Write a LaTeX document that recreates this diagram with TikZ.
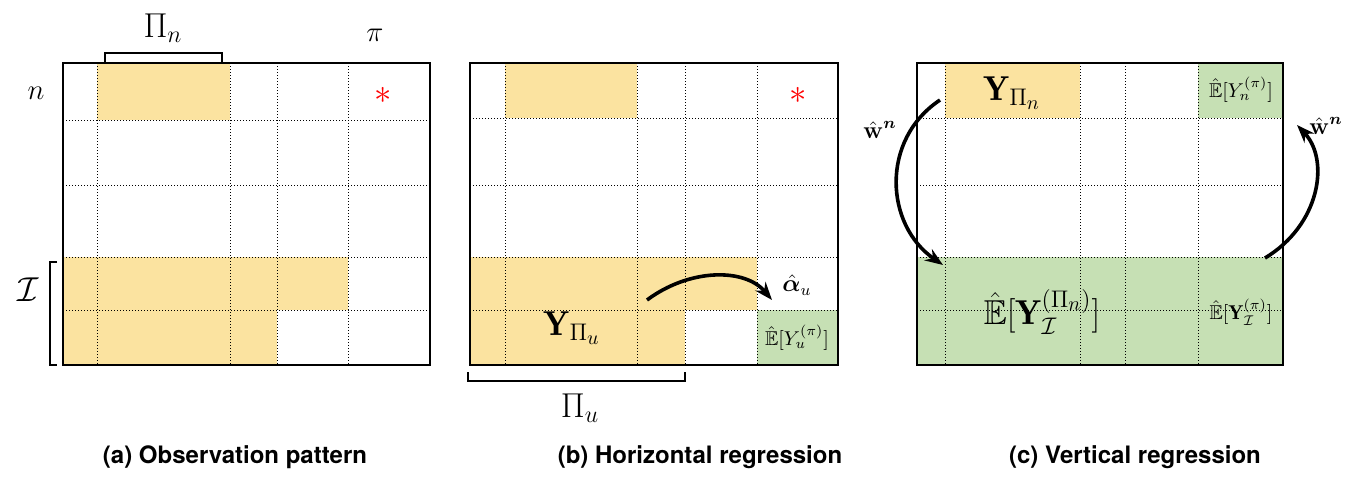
\documentclass[tikz,border=0pt]{standalone}
\usepackage{amsmath,amssymb,bm}
\usepackage{fontspec}
\setsansfont{TeX Gyre Heros}
\usetikzlibrary{decorations.pathreplacing,arrows.meta}
\begin{document}
\begin{tikzpicture}[x=0.5pt,y=-0.5pt,
  grid/.style={densely dotted,line width=0.5pt},
  frame/.style={line width=1.3pt},
  captxt/.style={font=\sffamily\bfseries\large},
  brc/.style={line width=1pt},
  arr/.style={line width=1.8pt,-{Stealth[length=9pt]}}]
\useasboundingbox (0,0) rectangle (1356,488);
\definecolor{yelc}{HTML}{FBE3A0}\definecolor{grnc}{HTML}{C6E0B4}
\tikzset{yel/.style={fill=yelc},grn/.style={fill=grnc}}
% ---- (a)
\fill[yel] (97,63) rectangle (230,120);
\fill[yel] (63,257) rectangle (348,310);
\fill[yel] (63,310) rectangle (277,365);
\foreach \x in {97,230,277,348} \draw[grid] (\x,63) -- (\x,365);
\foreach \y in {120,185,257,310} \draw[grid] (63,\y) -- (430,\y);
\draw[frame] (63,63) rectangle (430,365);
\node (na) at (36,93) {\Large $n$};
\node (pia) at (375,35) {\Large $\pi$};
\node[red,inner sep=0pt] (sta) at (383,95) {\LARGE $*$};
\draw[brc] (105,62) -- (105,53) -- (222,53) -- (222,62);
\node (Pina) at (163,28) {\LARGE $\Pi_n$};
\draw[brc] (57,262) -- (50,262) -- (50,365) -- (57,365);
\node (Ia) at (28,290) {\LARGE $\mathcal{I}$};
\node[captxt] (ca) at (235,457) {(a) Observation pattern};
% ---- (b)
\fill[yel] (505,63) rectangle (637,118);
\fill[yel] (470,257) rectangle (757,310);
\fill[yel] (470,310) rectangle (685,365);
\fill[grn] (757,310) rectangle (838,365);
\foreach \x in {505,637,685,757} \draw[grid] (\x,63) -- (\x,365);
\foreach \y in {118,185,257,310} \draw[grid] (470,\y) -- (838,\y);
\draw[frame] (470,63) rectangle (838,365);
\node[red,inner sep=0pt] (stb) at (798,95) {\LARGE $*$};
\node (Yb) at (572,328) {\LARGE $\mathbf{Y}_{\Pi_u}$};
\node (Eb) at (797,338) {$\hat{\mathbb{E}}[Y_u^{(\pi)}]$};
\node[inner sep=1pt] (al) at (797,285) {\large $\hat{\bm{\alpha}}_u$};
\coordinate (bs) at (647,300);
\coordinate (be) at (772,300);
\draw[arr] (bs) .. controls (690,268) and (745,268) .. (be);
\draw[brc] (468,372) -- (468,381) -- (685,381) -- (685,372);
\node (Piu) at (580,408) {\LARGE $\Pi_u$};
\node[captxt] (cb) at (700,457) {(b) Horizontal regression};
% ---- (c)
\fill[yel] (945,63) rectangle (1080,118);
\fill[grn] (1198,63) rectangle (1283,118);
\fill[grn] (917,257) rectangle (1283,365);
\foreach \x in {945,1080,1125,1198} \draw[grid] (\x,63) -- (\x,365);
\foreach \y in {118,185,257,310} \draw[grid] (917,\y) -- (1283,\y);
\draw[frame] (917,63) rectangle (1283,365);
\node (Yc) at (1012,93) {\LARGE $\mathbf{Y}_{\Pi_n}$};
\node (Ec1) at (1241,90) {$\hat{\mathbb{E}}[Y_n^{(\pi)}]$};
\node (Ec2) at (1042,312) {\LARGE $\hat{\mathbb{E}}[\mathbf{Y}_{\mathcal{I}}^{(\Pi_n)}]$};
\node (Ec3) at (1241,312) {$\hat{\mathbb{E}}[\mathbf{Y}_{\mathcal{I}}^{(\pi)}]$};
\coordinate (c1s) at (940,100);
\coordinate (c1e) at (943,265);
\draw[arr] (c1s) .. controls (880,140) and (885,225) .. (c1e);
\coordinate (c2s) at (1265,258);
\coordinate (c2e) at (1297,125);
\draw[arr] (c2s) .. controls (1320,225) and (1330,160) .. (c2e);
\node[inner sep=1pt] (w1) at (880,130) {\large $\bm{\hat{\mathbf{w}}}^{\bm n}$};
\node[inner sep=1pt] (w2) at (1326,126) {\large $\bm{\hat{\mathbf{w}}}^{\bm n}$};
\node[captxt] (cc) at (1135,457) {(c) Vertical regression};
\end{tikzpicture}
\end{document}
